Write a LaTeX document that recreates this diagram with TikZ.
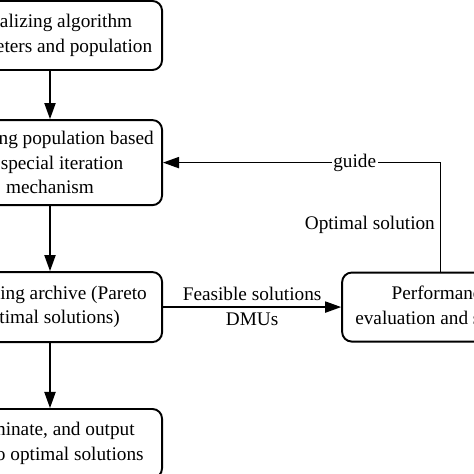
\documentclass[tikz,border=0pt]{standalone}
\usepackage{fontspec}
\setmainfont{Liberation Serif}
\usetikzlibrary{positioning,arrows.meta}

\begin{document}
\begin{tikzpicture}[
		node distance=30pt,
		box/.style={draw, line width=1.2pt, rounded corners=6pt, align=center, minimum width=139.6pt, inner sep=2pt, font=\fontsize{12}{15.3}\selectfont},
		flow/.style={line width=0.8pt, -{Triangle[length=10pt,width=7pt]}},
		lbl/.style={font=\fontsize{12}{15.3}\selectfont},
	]
		\useasboundingbox (0,0) rectangle (295.3pt,-295.3pt);
		\clip (0,0) rectangle (295.3pt,-295.3pt);
		
		\node (init) [box, minimum height=43pt] at (31.15pt,-22.1pt) {Initializing algorithm\\parameters and population};
		\node (upd) [box, minimum height=53pt, below=30pt of init] {Updating population based\\on special iteration\\mechanism};
		\node (arc) [box, minimum height=43.6pt, below=40.5pt of upd] {Updating archive (Pareto\\optimal solutions)};
		\node (term) [box, minimum height=43pt, below=40.5pt of arc] {Terminate, and output\\Pareto optimal solutions};
		\node (perf) [box, minimum width=123pt, minimum height=43pt, right=111pt of arc] {Performance\\evaluation and sorting};
		
		\draw[flow] (init) -- (upd);
		\draw[flow] (upd) -- (arc);
		\draw[flow] (arc) -- (term);
		\draw[flow] (arc) -- (perf) node[lbl, midway, above]{Feasible solutions} node[lbl, midway, below]{DMUs};
		\draw[flow] (perf.north) |- (upd.east) node[lbl, pos=0.213, left]{Optimal solution} node[lbl, pos=0.655, fill=white, inner sep=1pt]{guide};
	\end{tikzpicture}
\end{document}
